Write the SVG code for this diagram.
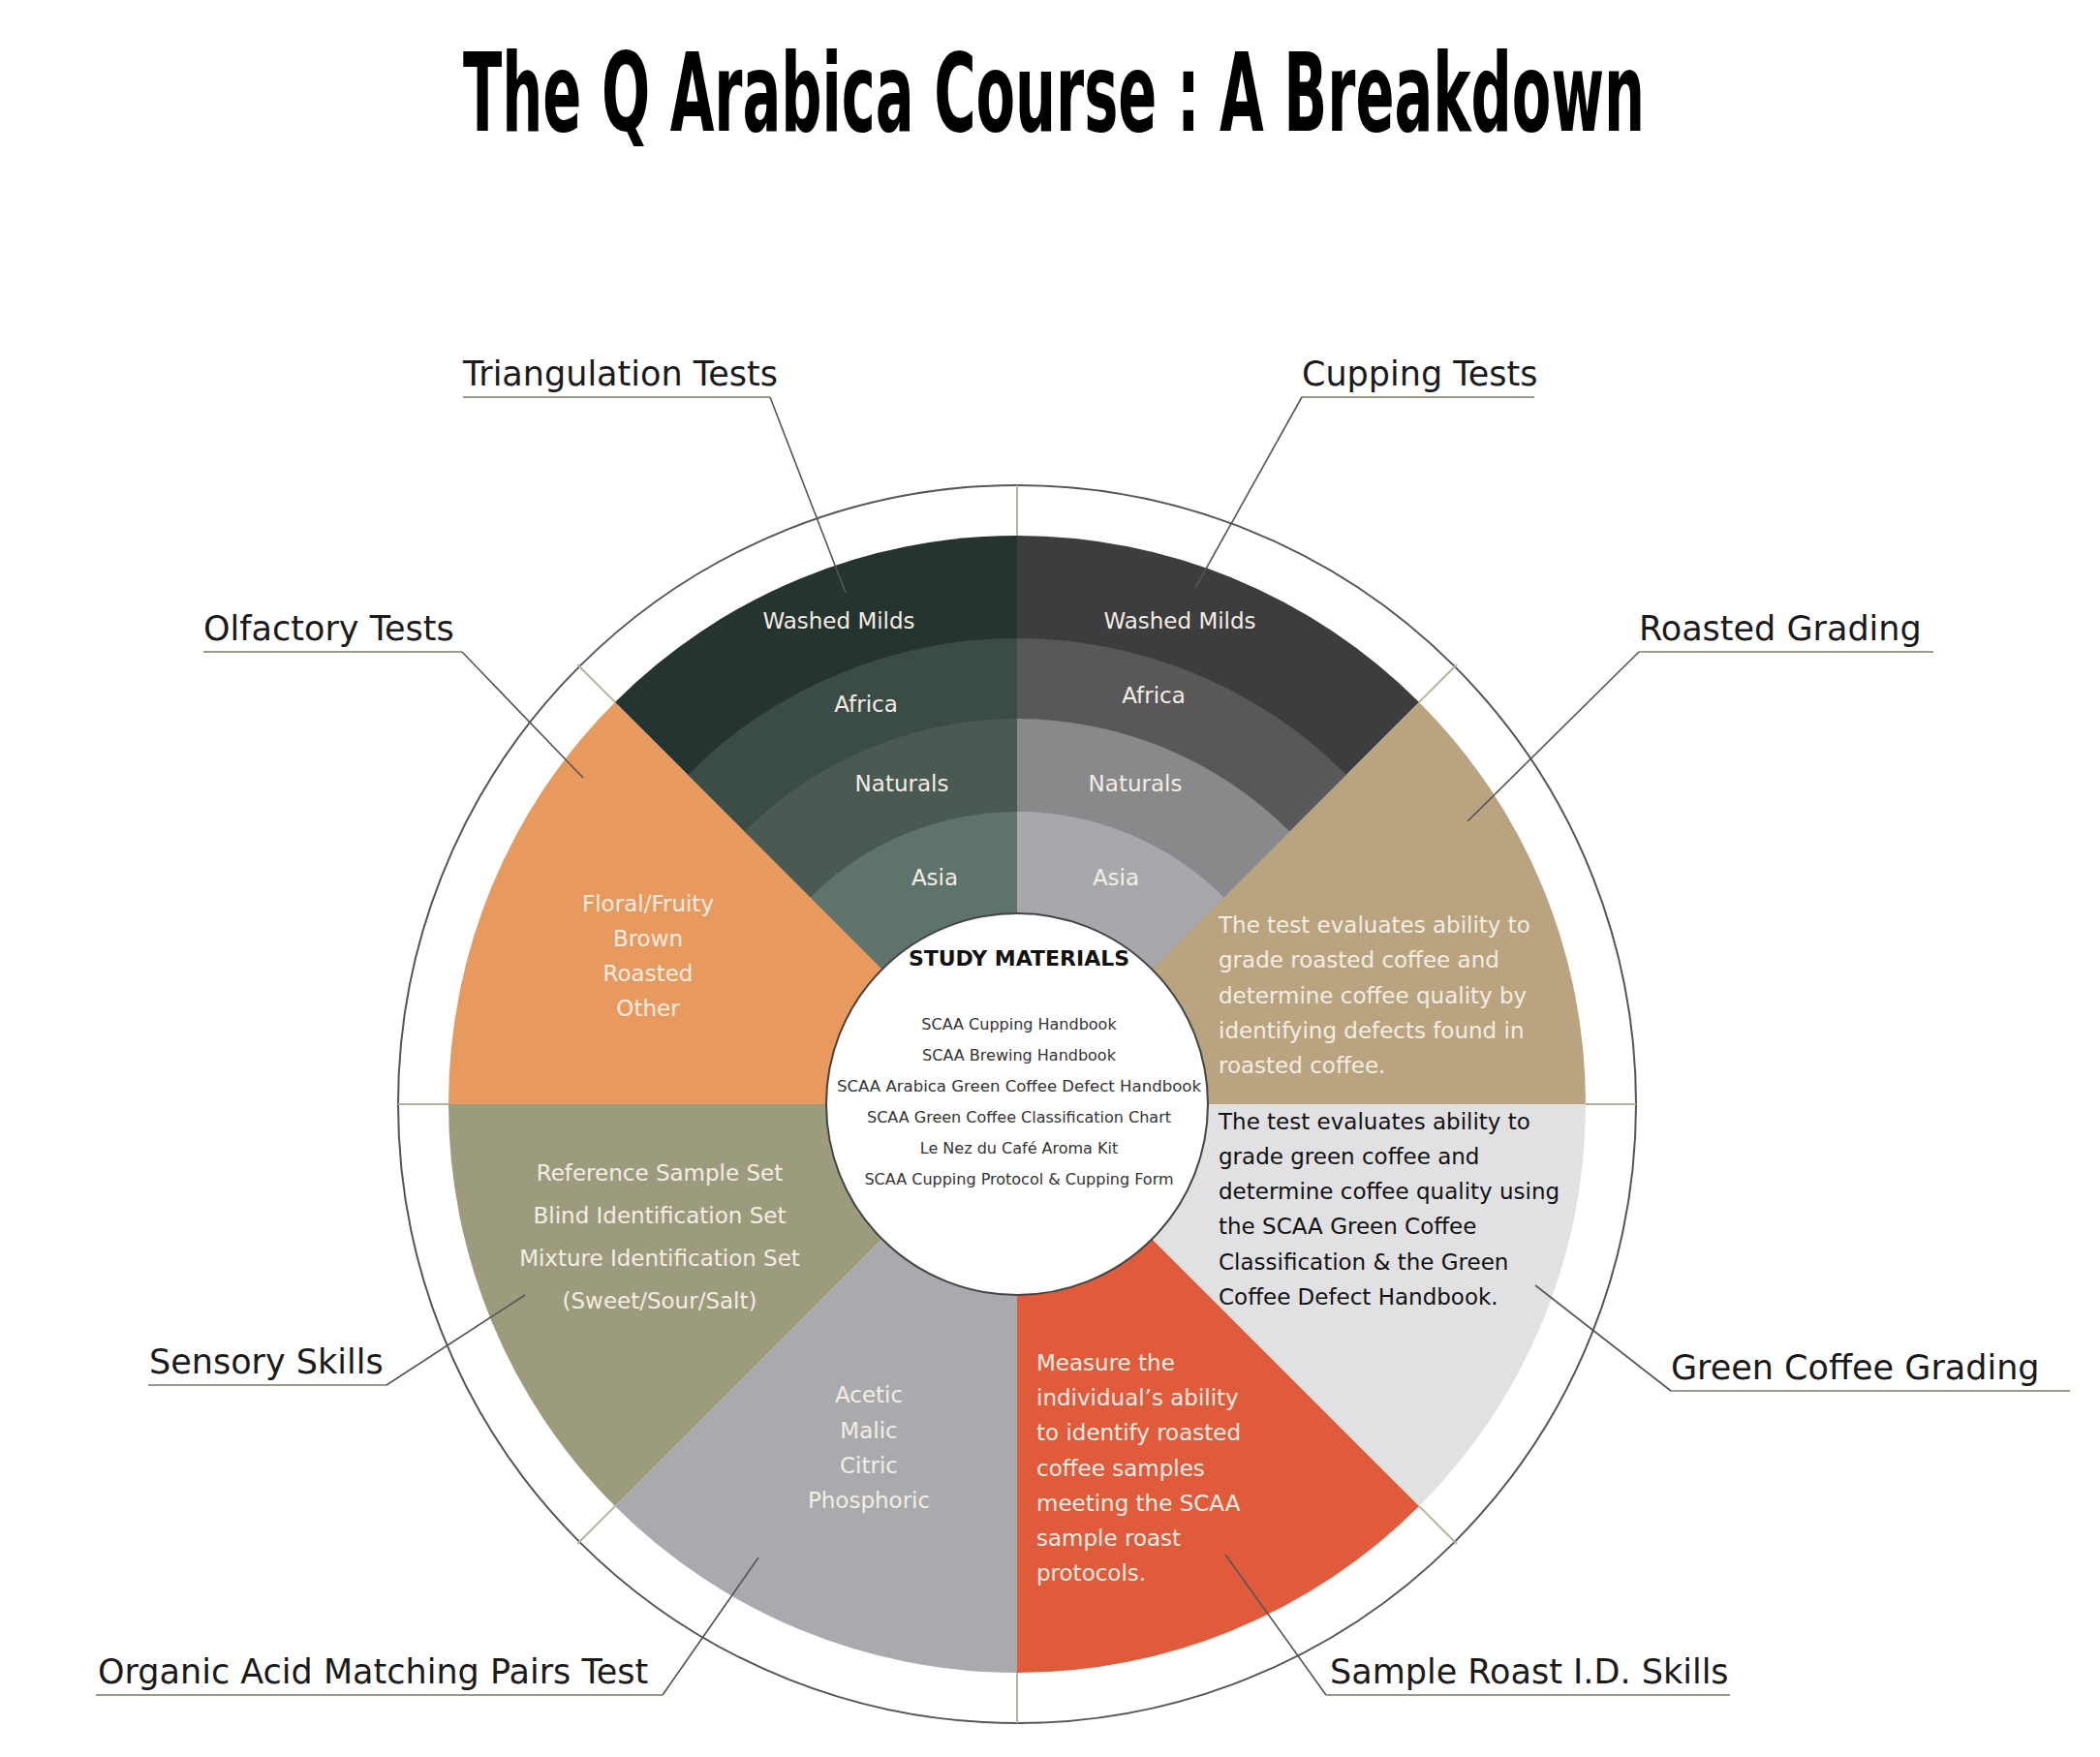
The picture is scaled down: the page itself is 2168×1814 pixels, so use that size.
<svg xmlns="http://www.w3.org/2000/svg" width="2168" height="1814" viewBox="0 0 2168 1814">
<style>
.lbl{font-family:"DejaVu Sans","Liberation Sans",sans-serif;font-size:35px;fill:#1a1a1a}
.ul{stroke:#9a9a8a;stroke-width:2;fill:none}
.ld{stroke:#555;stroke-width:1.6;fill:none}
.w{font-family:"DejaVu Sans","Liberation Sans",sans-serif;font-size:23px;fill:#f4ede4}
.wc{font-family:"DejaVu Sans","Liberation Sans",sans-serif;font-size:23px;fill:#f4ede4;text-anchor:middle}
.b{font-family:"DejaVu Sans","Liberation Sans",sans-serif;font-size:23px;fill:#111}
.sm{font-family:"DejaVu Sans","Liberation Sans",sans-serif;font-size:16px;fill:#333;text-anchor:middle}
.tick{stroke:#b5b39f;stroke-width:2}
</style>
<rect width="2168" height="1814" fill="#fff"/>
<text x="1088" y="135" text-anchor="middle" font-family="DejaVu Sans Condensed,DejaVu Sans,sans-serif" font-weight="bold" font-size="112" textLength="1220" lengthAdjust="spacingAndGlyphs" fill="#000">The Q Arabica Course : A Breakdown</text>

<circle cx="1050" cy="1140" r="639" fill="none" stroke="#555" stroke-width="2"/>

<g id="triangulation">
<path d="M1050 1140 L634.9 724.9 A587 587 0 0 1 1050 553 Z" fill="#253430"/>
<path d="M1050 1140 L709.9 799.9 A481 481 0 0 1 1050 659 Z" fill="#3b4b45"/>
<path d="M1050 1140 L768.6 858.6 A398 398 0 0 1 1050 742 Z" fill="#4a5a53"/>
<path d="M1050 1140 L836.5 926.5 A302 302 0 0 1 1050 838 Z" fill="#5e736b"/>
<text class="wc" x="866" y="649">Washed Milds</text>
<text class="wc" x="894" y="735">Africa</text>
<text class="wc" x="931" y="817">Naturals</text>
<text class="wc" x="965" y="914">Asia</text>
</g>
<g id="cupping">
<path d="M1050 1140 L1050 553 A587 587 0 0 1 1465.1 724.9 Z" fill="#3d3d3f"/>
<path d="M1050 1140 L1050 659 A481 481 0 0 1 1390.1 799.9 Z" fill="#58585a"/>
<path d="M1050 1140 L1050 742 A398 398 0 0 1 1331.4 858.6 Z" fill="#89898c"/>
<path d="M1050 1140 L1050 838 A302 302 0 0 1 1263.5 926.5 Z" fill="#a7a8ab"/>
<text class="wc" x="1218" y="649">Washed Milds</text>
<text class="wc" x="1191" y="726">Africa</text>
<text class="wc" x="1172" y="817">Naturals</text>
<text class="wc" x="1152" y="914">Asia</text>
</g>
<g id="roasted">
<path d="M1050 1140 L1465.1 724.9 A587 587 0 0 1 1637 1140 Z" fill="#b9a47f"/>
<text class="w" x="1258" y="963">The test evaluates ability to</text>
<text class="w" x="1258" y="999">grade roasted coffee and</text>
<text class="w" x="1258" y="1036">determine coffee quality by</text>
<text class="w" x="1258" y="1072">identifying defects found in</text>
<text class="w" x="1258" y="1108">roasted coffee.</text>
</g>
<g id="green">
<path d="M1050 1140 L1637 1140 A587 587 0 0 1 1465.1 1555.1 Z" fill="#e1e1e3"/>
<text class="b" x="1258" y="1166">The test evaluates ability to</text>
<text class="b" x="1258" y="1202">grade green coffee and</text>
<text class="b" x="1258" y="1238">determine coffee quality using</text>
<text class="b" x="1258" y="1274">the SCAA Green Coffee</text>
<text class="b" x="1258" y="1311">Classification &amp; the Green</text>
<text class="b" x="1258" y="1347">Coffee Defect Handbook.</text>
</g>
<g id="sampleroast">
<path d="M1050 1140 L1465.1 1555.1 A587 587 0 0 1 1050 1727 Z" fill="#df5b3b"/>
<text class="w" x="1070" y="1415">Measure the</text>
<text class="w" x="1070" y="1451">individual’s ability</text>
<text class="w" x="1070" y="1487">to identify roasted</text>
<text class="w" x="1070" y="1524">coffee samples</text>
<text class="w" x="1070" y="1560">meeting the SCAA</text>
<text class="w" x="1070" y="1596">sample roast</text>
<text class="w" x="1070" y="1632">protocols.</text>
</g>
<g id="organic">
<path d="M1050 1140 L1050 1727 A587 587 0 0 1 634.9 1555.1 Z" fill="#a9aaad"/>
<text class="wc" x="897" y="1448">Acetic</text>
<text class="wc" x="897" y="1485">Malic</text>
<text class="wc" x="897" y="1521">Citric</text>
<text class="wc" x="897" y="1557">Phosphoric</text>
</g>
<g id="sensory">
<path d="M1050 1140 L634.9 1555.1 A587 587 0 0 1 463 1140 Z" fill="#9d9b7d"/>
<text class="wc" x="681" y="1219" font-size="24">Reference Sample Set</text>
<text class="wc" x="681" y="1263" font-size="24">Blind Identification Set</text>
<text class="wc" x="681" y="1307" font-size="24">Mixture Identification Set</text>
<text class="wc" x="681" y="1351" font-size="24">(Sweet/Sour/Salt)</text>
</g>
<g id="olfactory">
<path d="M1050 1140 L463 1140 A587 587 0 0 1 634.9 724.9 Z" fill="#e89a5e"/>
<text class="wc" x="669" y="941">Floral/Fruity</text>
<text class="wc" x="669" y="977">Brown</text>
<text class="wc" x="669" y="1013">Roasted</text>
<text class="wc" x="669" y="1049">Other</text>
</g>

<g id="ticks">
<line class="tick" x1="1050" y1="553" x2="1050" y2="501"/>
<line class="tick" x1="1050" y1="1727" x2="1050" y2="1779"/>
<line class="tick" x1="463" y1="1140" x2="411" y2="1140"/>
<line class="tick" x1="1637" y1="1140" x2="1689" y2="1140"/>
<line class="tick" x1="1465.1" y1="724.9" x2="1504" y2="686"/>
<line class="tick" x1="634.9" y1="724.9" x2="596" y2="686"/>
<line class="tick" x1="1465.1" y1="1555.1" x2="1504" y2="1594"/>
<line class="tick" x1="634.9" y1="1555.1" x2="596" y2="1594"/>
</g>

<g id="study">
<circle cx="1050" cy="1140" r="197" fill="#fff" stroke="#444" stroke-width="2"/>
<text x="1052" y="997" text-anchor="middle" font-family="DejaVu Sans,sans-serif" font-weight="bold" font-size="22" fill="#111">STUDY MATERIALS</text>
<text class="sm" x="1052" y="1063">SCAA Cupping Handbook</text>
<text class="sm" x="1052" y="1095">SCAA Brewing Handbook</text>
<text class="sm" x="1052" y="1127" textLength="376" lengthAdjust="spacingAndGlyphs">SCAA Arabica Green Coffee Defect Handbook</text>
<text class="sm" x="1052" y="1159">SCAA Green Coffee Classification Chart</text>
<text class="sm" x="1052" y="1191">Le Nez du Café Aroma Kit</text>
<text class="sm" x="1052" y="1223">SCAA Cupping Protocol &amp; Cupping Form</text>
</g>

<g id="connectors">
<path class="ul" d="M478 410 H795"/><path class="ld" d="M795 410 L873 612"/>
<path class="ul" d="M1344 410 H1584"/><path class="ld" d="M1344 410 L1234 607"/>
<path class="ul" d="M210 673 H477"/><path class="ld" d="M477 673 L602 803"/>
<path class="ul" d="M1692 673 H1996"/><path class="ld" d="M1692 673 L1515 848"/>
<path class="ul" d="M153 1430 H399"/><path class="ld" d="M399 1430 L542 1337"/>
<path class="ul" d="M1725 1436 H2137"/><path class="ld" d="M1725 1436 L1585 1327"/>
<path class="ul" d="M99 1750 H684"/><path class="ld" d="M684 1750 L783 1608"/>
<path class="ul" d="M1369 1750 H1786"/><path class="ld" d="M1369 1750 L1265 1605"/>
</g>

<g id="labels">
<text class="lbl" x="478" y="398">Triangulation Tests</text>
<text class="lbl" x="1344" y="398">Cupping Tests</text>
<text class="lbl" x="210" y="661">Olfactory Tests</text>
<text class="lbl" x="1692" y="661">Roasted Grading</text>
<text class="lbl" x="154" y="1418">Sensory Skills</text>
<text class="lbl" x="1725" y="1424">Green Coffee Grading</text>
<text class="lbl" x="101" y="1738">Organic Acid Matching Pairs Test</text>
<text class="lbl" x="1373" y="1738">Sample Roast I.D. Skills</text>
</g>
</svg>
